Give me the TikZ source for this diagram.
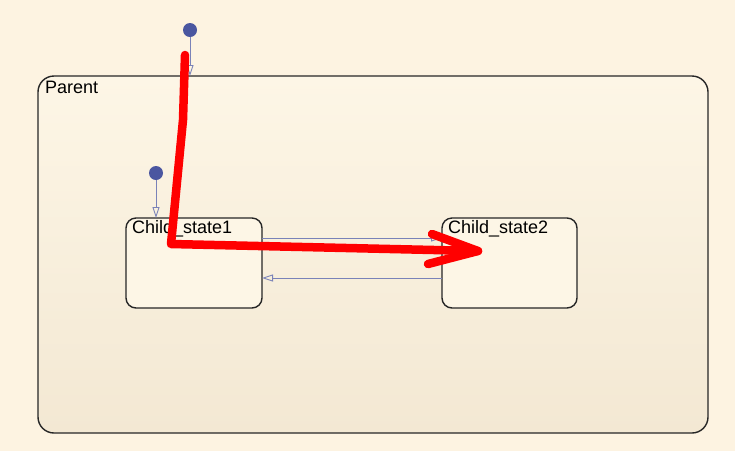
\documentclass[tikz,border=0pt]{standalone}
\usepackage{fontspec}
\setmainfont{Liberation Sans}
\usetikzlibrary{arrows.meta}
\definecolor{bg}{HTML}{FDF3E1}
\definecolor{ptop}{HTML}{FDF6E6}
\definecolor{pbot}{HTML}{F3E8D3}
\definecolor{trans}{HTML}{7A82B8}
\definecolor{dotc}{HTML}{4A56A0}
\tikzset{
  statebox/.style={draw=black!85, line width=1.4pt, rounded corners=10pt, fill=ptop},
  trn/.style={draw=trans, line width=0.9pt, -{Triangle[open,length=11pt,width=7pt]}},
  dflt/.style={circle, fill=dotc, inner sep=0pt, minimum size=14pt},
  lbl/.style={font=\fontsize{18}{20}\selectfont, anchor=north west, inner sep=0pt},
}
\begin{document}
\begin{tikzpicture}[x=1pt,y=-1pt]
\fill[bg] (0,0) rectangle (735,451);
\useasboundingbox (0,0) rectangle (735,451);
\shade[top color=ptop, bottom color=pbot, rounded corners=16pt] (38,76) rectangle (708,433);
\draw[black!85, line width=1.4pt, rounded corners=16pt] (38,76) rectangle (708,433);
\node[lbl] (pl) at (45,81) {Parent};
\coordinate (ptopc) at (190,76);
\node[dflt] (d1) at (190,30) {};
\draw[trn] (d1) -- (ptopc);
\draw[statebox] (126,218) rectangle (262,308);
\draw[statebox] (442,218) rectangle (577,308);
\node[lbl] (c1) at (132,220) {Child\_state1};
\node[lbl] (c2) at (448,220) {Child\_state2};
\node[dflt] (d2) at (156,173) {};
\coordinate (c1t) at (156,218);
\draw[trn] (d2) -- (c1t);
\coordinate (a1) at (262,238); \coordinate (b1) at (442,238);
\coordinate (a2) at (442,278); \coordinate (b2) at (262,278);
\draw[trn] (a1) -- (b1);
\draw[trn] (a2) -- (b2);
\draw[red, line width=8.5pt, line cap=round, line join=round]
  (185,55) -- (183,120) -- (171,244) -- (478,251);
\draw[red, line width=8.5pt, line cap=round, line join=round]
  (432,234) -- (478,251) -- (428,264);
\end{tikzpicture}
\end{document}
